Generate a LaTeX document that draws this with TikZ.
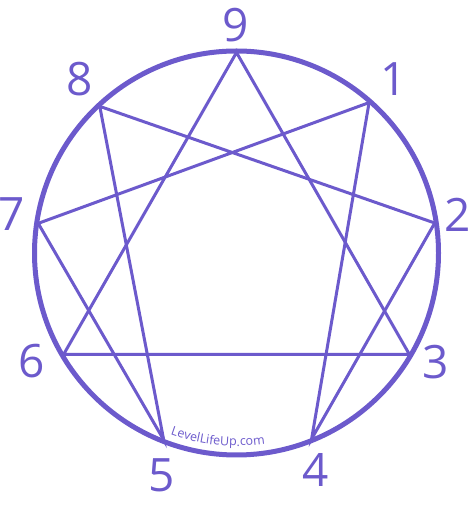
\documentclass[tikz,border=0pt]{standalone}
\usepackage{fontspec}
\setmainfont{Open Sans}
\usetikzlibrary{decorations.text,calc}
\definecolor{ennea}{RGB}{108,90,204}
\begin{document}
\begin{tikzpicture}[x=1pt,y=1pt,
  ring/.style={draw=ennea,line width=5pt},
  chord/.style={draw=ennea,line width=3pt,line join=miter},
  num/.style={text=ennea,font=\fontsize{46}{46}\selectfont,inner sep=0pt}]
\useasboundingbox (0,0) rectangle (474,505);
\coordinate (c) at (236.5,252);
\node[ring,circle,minimum size=404pt,inner sep=0pt] (ringnode) at (c) {};
\foreach \n/\a in {9/90,1/48.6,2/8.6,3/-30.4,4/-68,5/-111.3,6/-149.6,7/171.5,8/133}{
  \coordinate (p\n) at ($(c)+(\a:200.5)$);
}
\draw[chord] (p9) -- (p3) -- (p6) -- cycle;
\draw[chord] (p1) -- (p4) -- (p2) -- (p8) -- (p5) -- (p7) -- cycle;
\node[num] (l9) at (236,480) {9};
\node[num] (l1) at (394,426) {1};
\node[num] (l2) at (458,290) {2};
\node[num] (l3) at (436,143) {3};
\node[num] (l4) at (316,35) {4};
\node[num] (l5) at (162,30) {5};
\node[num] (l6) at (32,144) {6};
\node[num] (l7) at (12,291) {7};
\node[num] (l8) at (80,426) {8};
\path[decorate,decoration={text along path,text={|\fontsize{12.5}{12.5}\selectfont\color{ennea}|LevelLifeUp.com},text align=left}]
  ($(c)+(250:193)$) arc[start angle=250,end angle=285,radius=193];
\end{tikzpicture}
\end{document}
